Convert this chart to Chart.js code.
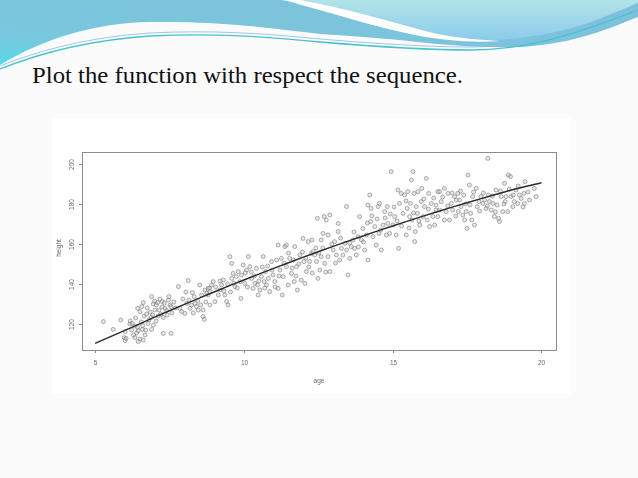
<!DOCTYPE html>
<html>
<head>
<meta charset="utf-8">
<script src="https://cdn.jsdelivr.net/npm/chart.js@4"></script>
<style>
  html, body { margin: 0; padding: 0; }
  body { width: 638px; height: 478px; background: #fbfbfb; position: relative; overflow: hidden; }
  #header { position: absolute; left: 0; top: 0; }
  #plotBox { position: absolute; left: 52px; top: 118px; width: 519px; height: 276px; background: #fff; }
</style>
</head>
<body>
<svg id="header" width="638" height="100">
  <defs>
    <linearGradient id="gLeft" x1="0" y1="1" x2="1" y2="0">
      <stop offset="0" stop-color="#5ad7e6"/>
      <stop offset="0.25" stop-color="#79c8dd"/>
      <stop offset="1" stop-color="#7fbfda"/>
    </linearGradient>
    <linearGradient id="gRight" x1="0" y1="0" x2="0" y2="1">
      <stop offset="0" stop-color="#b0e4e8"/>
      <stop offset="1" stop-color="#8ccbec"/>
    </linearGradient>
  </defs>
  <path d="M0,0 H638 V17 C610,28 575,44 520,47 C480,48 445,45 418,42 C380,38 350,36 320,34 C270,28 220,21 150,22 C95,23 45,38 0,65 Z" fill="url(#gLeft)"/>
  <path d="M282,0 H305 C345,8 390,20 430,31 C455,37 480,40 500,41 C470,43 440,40 415,35 C375,27 335,14 305,6 C295,3 288,1 282,0 Z" fill="#ffffff"/>
  <path d="M300,0 H638 V3 C615,12 585,27 551,33 C525,38 505,40 490,40 C465,39 445,36 425,31 C385,20 340,7 300,0 Z" fill="url(#gRight)"/>
  <path d="M0,69 C40,53 90,40 150,36 C210,33 260,36 320,42 C380,47 430,50 470,50 C520,50 560,40 638,10" fill="none" stroke="#45c3cf" stroke-width="1.3"/>
  <path d="M0,66 C40,50 90,37 150,33 C210,30 260,33 320,39 C380,44 430,47 470,47 C520,47 560,36 638,6" fill="none" stroke="#86b9e2" stroke-width="0.8"/>
  <text x="32" y="83" font-family="Liberation Serif, serif" font-size="23" fill="#111" textLength="431" lengthAdjust="spacingAndGlyphs">Plot the function with respect the sequence.</text>
</svg>
<div id="plotBox"><canvas id="scatterChart" width="519" height="276"></canvas></div>
<script>
// age / height readings
const ages = [
  5.28,5.61,5.86,6.01,5.98,6.01,6.17,6.25,6.34,6.43,
  6.29,6.34,6.45,6.51,6.62,6.45,6.59,6.70,6.43,6.51,
  6.57,6.62,6.65,6.73,6.81,6.88,6.90,6.96,7.01,7.06,
  7.10,7.15,7.21,7.26,7.29,7.35,7.40,7.46,7.48,7.52,
  7.55,7.29,7.55,6.90,6.96,7.80,7.85,7.91,8.02,8.08,
  8.13,8.19,8.24,8.27,8.33,8.36,8.41,8.47,8.52,8.58,
  8.63,8.63,8.67,8.69,8.75,8.80,
  8.80,8.86,8.91,8.97,8.86,9.03,9.14,9.19,9.25,9.31,
  9.36,9.42,9.47,9.53,9.59,9.59,9.64,9.70,9.75,9.81,
  9.87,9.90,9.98,10.03,10.09,10.15,10.20,10.26,10.31,10.37,
  10.42,10.46,10.48,10.54,10.59,10.65,10.68,10.73,10.76,10.82,
  10.87,10.93,10.98,11.04,11.10,11.15,11.15,11.21,11.26,11.29,
  11.32,11.38,11.43,11.43,11.49,11.54,11.60,11.66,11.69,11.71,
  11.77,11.80,11.88,11.93,11.99,12.02,12.05,12.10,12.16,12.21,
  12.27,12.29,12.33,12.38,12.44,12.47,12.49,12.55,12.60,12.60,
  12.66,12.70,12.72,12.77,
  12.89,12.83,12.83,12.89,13.00,13.05,13.11,13.17,13.17,13.22,
  13.28,13.33,13.39,13.45,13.45,13.50,13.56,13.61,13.67,13.72,
  13.78,13.84,13.89,13.95,14.00,14.06,14.12,14.17,14.17,14.23,
  14.26,14.28,14.34,14.40,14.45,14.51,14.54,14.56,14.62,14.68,
  14.73,14.79,14.82,14.84,14.90,14.95,15.01,15.07,15.12,15.18,
  15.20,15.23,15.29,15.35,15.40,15.46,15.49,15.51,15.57,15.60,
  15.63,15.65,15.68,15.72,15.74,15.76,15.79,15.83,15.85,15.91,
  15.96,15.98,16.02,16.07,16.13,16.16,16.21,16.24,16.30,16.35,
  16.41,16.46,16.52,
  16.46,16.52,16.58,16.58,16.63,16.74,16.74,16.80,16.86,16.91,
  16.97,17.02,17.08,17.14,17.19,17.21,17.25,17.30,17.36,17.39,
  17.42,17.47,17.50,17.53,17.58,17.62,17.66,17.69,17.75,17.81,
  17.84,17.90,17.97,18.03,18.09,18.14,18.20,18.22,18.25,18.31,
  18.37,18.42,18.48,18.51,18.56,18.59,18.65,18.70,18.76,18.78,
  18.81,18.87,18.89,18.96,18.98,19.04,19.09,19.15,19.20,19.26,
  19.32,19.41,19.43,19.45,19.60,19.76,19.82,
  // denser parts of the cloud
  6.04,6.18,6.23,6.36,6.40,6.55,6.60,6.68,6.75,6.78,
  6.85,6.93,7.00,7.05,7.12,7.18,7.25,7.33,7.42,7.58,
  7.65,7.70,7.95,8.05,8.15,8.30,8.45,8.55,8.72,8.85,
  9.05,9.20,9.33,9.45,9.55,9.66,9.78,9.92,10.05,10.12,
  10.25,10.35,10.50,10.62,10.70,10.80,10.95,11.05,11.18,11.35,
  11.50,11.62,11.75,11.85,11.97,12.08,12.18,12.30,12.42,12.52,
  12.65,12.75,12.95,13.08,13.25,
  13.55,13.70,13.85,14.02,14.15,14.30,14.48,14.60,14.75,14.92,
  15.05,15.15,15.30,15.45,15.55,15.70,15.88,16.05,16.20,16.38,
  16.68,16.85,17.00,17.12,17.28,17.45,17.60,17.72,17.92,18.05,
  18.18,18.35,18.45,18.62,18.74,18.92,19.05,19.22,19.38,19.55
];
const heights = [
  121.2,117.3,122.0,116.2,113.2,111.7,120.0,120.3,119.0,118.3,
  114.5,113.2,111.2,112.5,112.0,116.7,117.3,117.0,127.8,126.2,
  128.7,130.7,124.0,125.0,122.0,123.3,133.7,130.0,127.0,129.5,
  130.7,127.0,125.0,131.2,123.3,127.8,126.7,132.0,133.7,129.5,
  128.7,115.3,115.3,117.3,119.5,138.7,127.8,126.2,125.3,130.3,
  141.7,127.8,129.5,135.7,133.7,130.3,128.7,127.0,139.5,134.5,
  127.0,123.7,122.3,137.0,135.3,137.8,
  134.5,136.2,139.5,141.2,129.5,131.2,134.5,137.0,139.5,142.0,
  134.5,131.2,129.5,153.7,150.3,142.8,145.3,138.7,143.7,146.2,
  141.2,132.8,149.5,140.3,147.0,153.7,148.7,142.8,137.8,140.3,
  147.8,139.5,134.5,137.0,143.7,153.7,141.2,146.2,139.5,142.8,
  136.2,151.2,144.5,141.2,152.0,159.5,137.8,147.0,152.8,134.5,
  143.7,158.7,159.5,148.7,139.5,152.8,145.3,152.0,141.2,158.7,
  148.7,137.0,154.5,142.0,162.8,151.2,140.3,146.2,161.2,151.2,
  155.3,162.0,156.2,154.5,151.2,172.8,142.8,147.0,162.0,153.7,
  165.3,173.7,150.3,172.0,
  174.5,164.5,153.7,146.2,157.0,161.2,154.5,170.3,166.2,152.0,
  157.8,154.5,160.3,178.7,157.0,144.5,152.8,158.7,162.0,157.8,
  154.5,163.7,173.7,162.0,167.8,157.0,164.5,179.5,152.0,184.5,
  171.2,177.8,163.7,168.7,159.5,178.7,165.3,180.3,157.0,169.5,
  176.2,164.5,178.7,170.3,165.3,196.2,169.5,173.7,164.5,187.0,
  157.8,180.3,185.3,175.3,184.5,164.5,177.8,186.2,173.7,180.3,
  192.0,172.0,196.2,185.3,161.2,166.2,178.7,175.3,186.2,169.5,
  181.2,187.8,173.7,178.7,192.8,172.0,185.3,168.7,180.3,173.7,
  169.5,177.0,186.2,
  179.5,173.7,186.2,177.0,181.2,172.0,187.8,176.2,185.3,172.0,
  180.3,177.0,183.7,182.0,185.3,176.2,182.0,178.7,174.5,184.5,
  172.0,176.2,167.8,194.5,189.5,175.3,172.0,183.7,169.5,187.8,
  178.7,181.2,183.7,180.3,182.0,177.8,202.8,184.5,181.2,177.0,
  180.3,173.7,187.0,179.5,172.8,171.2,183.7,176.2,190.3,181.2,
  183.7,176.2,194.5,193.7,183.7,178.7,181.2,187.0,180.3,184.5,
  182.8,185.3,180.3,191.2,182.0,187.8,183.7,
  // denser parts of the cloud
  112.8,121.5,117.0,123.0,115.5,121.0,119.2,114.5,128.0,120.3,
  126.0,124.5,131.5,121.5,124.0,132.5,128.5,130.5,124.5,125.5,
  131.0,128.0,132.5,136.0,132.0,125.5,131.5,129.5,131.0,138.0,
  138.5,141.5,136.5,140.0,136.0,140.5,138.0,144.5,145.5,138.5,
  146.0,144.0,141.5,148.5,138.0,149.0,147.0,138.5,144.0,150.5,
  155.5,148.0,144.0,150.0,156.0,153.0,148.5,145.5,158.0,155.5,
  158.0,146.0,160.0,150.5,163.0,
  160.5,166.0,158.5,161.0,170.5,174.0,172.5,167.0,173.0,175.0,
  178.5,171.5,169.0,181.5,168.0,175.5,171.5,182.5,177.5,183.0,
  183.5,179.0,185.5,174.0,186.5,180.0,179.5,186.0,176.5,185.5,
  179.0,184.0,176.0,186.5,180.0,187.5,184.5,189.0,178.5,186.0
];

// fitted curve, read at whole years
const fitAges = [5, 6, 7, 8, 9, 10, 11, 12, 13, 14, 15, 16, 17, 18, 19, 20];
const fitHeights = [110.3, 116.8, 123.4, 129.8, 136.0, 142.0, 147.8, 153.4, 158.8, 164.0, 169.0, 173.8, 178.4, 182.8, 187.0, 190.6];

const xTicks = [5, 10, 15, 20];
const yTicks = [120, 140, 160, 180, 200];

// R style axes: box, outside ticks, rotated y labels
const rAxes = {
  id: "rAxes",
  afterDraw(chart) {
    const { ctx, chartArea: a, scales } = chart;
    const x = scales.x, y = scales.y;
    ctx.save();
    ctx.strokeStyle = "#8c8c8c";
    ctx.lineWidth = 1;
    ctx.strokeRect(Math.round(a.left) + 0.5, Math.round(a.top) + 0.5,
      Math.round(a.right - a.left), Math.round(a.bottom - a.top));

    ctx.fillStyle = "#6a6a6a";
    ctx.font = '6.5px "Liberation Sans", Arial, sans-serif';
    ctx.textAlign = "center";
    ctx.textBaseline = "middle";

    xTicks.forEach((v) => {
      const px = Math.round(x.getPixelForValue(v)) + 0.5;
      ctx.beginPath();
      ctx.moveTo(px, a.bottom);
      ctx.lineTo(px, a.bottom + 3);
      ctx.stroke();
      ctx.fillText(String(v), px, a.bottom + 13);
    });

    yTicks.forEach((v) => {
      const py = Math.round(y.getPixelForValue(v)) + 0.5;
      ctx.beginPath();
      ctx.moveTo(a.left - 3, py);
      ctx.lineTo(a.left, py);
      ctx.stroke();
      ctx.save();
      ctx.translate(a.left - 10, py);
      ctx.rotate(-Math.PI / 2);
      ctx.fillText(String(v), 0, 0);
      ctx.restore();
    });

    ctx.fillText("age", (a.left + a.right) / 2, a.bottom + 31);
    ctx.save();
    ctx.translate(a.left - 23, (a.top + a.bottom) / 2 - 3);
    ctx.rotate(-Math.PI / 2);
    ctx.fillText("height", 0, 0);
    ctx.restore();
    ctx.restore();
  }
};

const ctx = document.getElementById("scatterChart").getContext("2d");
const scatterChart = new Chart(ctx, {
  type: "scatter",
  data: {
    datasets: [
      {
        // fitted line on top
        data: fitAges.map((a, i) => ({ x: a, y: fitHeights[i] })),
        showLine: true,
        tension: 0.3,
        borderColor: "#2b2b2b",
        borderWidth: 1.4,
        pointRadius: 0,
      },
      {
        data: ages.map((a, i) => ({ x: a, y: heights[i] })),
        pointRadius: 2,
        borderWidth: 0.8,
        borderColor: "rgba(115,115,115,0.7)",
        backgroundColor: "rgba(195,195,195,0.4)",
      },
    ],
  },
  options: {
    responsive: false,
    animation: false,
    layout: {
      padding: { left: 30, right: 15, top: 34, bottom: 44 },
    },
    scales: {
      x: { type: "linear", display: false, min: 4.56, max: 20.49 },
      y: { type: "linear", display: false, min: 107, max: 206 },
    },
    plugins: {
      legend: { display: false },
      tooltip: { enabled: false },
    },
  },
  plugins: [rAxes],
});
</script>
</body>
</html>
